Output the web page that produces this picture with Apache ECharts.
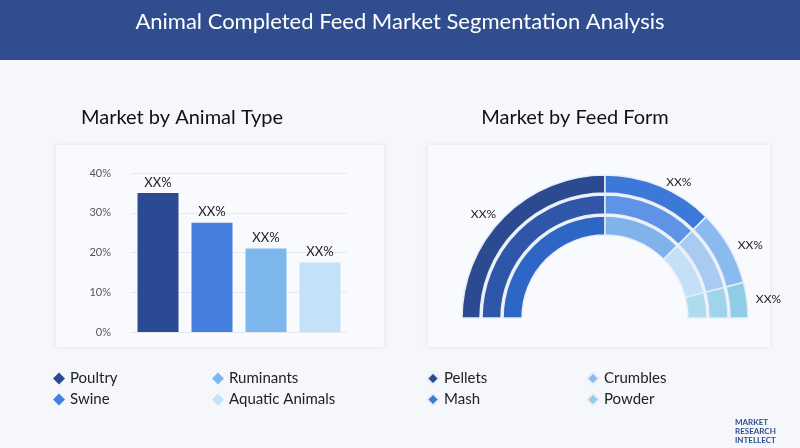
<!DOCTYPE html>
<html><head><meta charset="utf-8">
<script src="https://cdn.jsdelivr.net/npm/echarts@6/dist/echarts.min.js"></script>
<style>html,body{margin:0;padding:0;background:#f5f7fb}#c{width:800px;height:448px}</style>
</head><body><div id="c"></div>
<script>
const animalTypes = ['Poultry','Swine','Ruminants','Aquatic Animals'];
const animalValues = [35, 27.5, 21, 17.5];
const animalColors = ['#2c4a94','#4580e0','#7db7ee','#c3e2f8'];
const yTicks = [0,10,20,30,40];
const feedForms = ['Pellets','Mash','Crumbles','Powder'];
const feedValues = [50, 25, 17, 8];
const ringColors = [
  ['#2b4a90','#3b78d8','#8bbaee','#90cce6'],
  ['#2f56a8','#5f93e6','#a9cbf2','#a0d4ea'],
  ['#2e66c6','#80b2ec','#c4e0f6','#aedcee']
];
const labelText = 'XX%';

const chart = echarts.init(document.getElementById('c'));
const font = 'Lato, "Noto Sans", sans-serif';
const barSeries = animalTypes.map((n,i)=>({
  type:'bar', name:n, xAxisIndex:0, yAxisIndex:0,
  data: animalTypes.map((_,j)=> j===i ? animalValues[i] : '-'),
  barWidth:41, barGap:'-100%',
  itemStyle:{color:animalColors[i]},
  label:{show:true, position:'top', formatter:labelText, color:'#222', fontSize:13, fontFamily:font, distance:4}
}));
const radii = [[125,143],[104,123],[83,102]];
const pieSeries = radii.map((r,k)=>({
  type:'pie', center:[605,318], radius:r, startAngle:180, endAngle:0,
  silent:true,
  data: feedForms.map((n,i)=>({name:n, value:feedValues[i], itemStyle:{color:ringColors[k][i]}})),
  itemStyle:{borderColor:'#e8eef8', borderWidth:1.5},
  label: k===0 ? {show:true, position:'outside', formatter:labelText, color:'#222', fontSize:12, fontFamily:font} : {show:false},
  labelLine:{show:false, length:4, length2:0}
}));
function leg(names, left, top){
  return {data:names, left, top, orient:'vertical', itemGap:6, icon:'diamond', itemWidth:12, itemHeight:12,
    textStyle:{fontSize:15, color:'#222', fontFamily:font}, selectedMode:false};
}
chart.setOption({
  backgroundColor:'#f5f7fb',
  animation:false,
  graphic:[
    {type:'rect', shape:{x:0,y:0,width:800,height:60}, style:{fill:'#2f4d8f'}},
    {type:'text', x:400, y:22, style:{text:'Animal Completed Feed Market Segmentation Analysis', fill:'#fff', font:'22px '+font, textAlign:'center', textVerticalAlign:'middle'}},
    {type:'text', x:182, y:118, style:{text:'Market by Animal Type', fill:'#111', font:'20px '+font, textAlign:'center', textVerticalAlign:'middle'}},
    {type:'text', x:575, y:118, style:{text:'Market by Feed Form', fill:'#111', font:'20px '+font, textAlign:'center', textVerticalAlign:'middle'}},
    {type:'rect', z:-1, shape:{x:56,y:145,width:328,height:202}, style:{fill:'#f9fafd', shadowBlur:6, shadowColor:'rgba(0,0,0,0.08)'}},
    {type:'rect', z:-1, shape:{x:428,y:145,width:342,height:202}, style:{fill:'#f9fafd', shadowBlur:6, shadowColor:'rgba(0,0,0,0.08)'}},
    {type:'text', x:735, y:418, style:{text:'MARKET\nRESEARCH\nINTELLECT', fill:'#2f4d8f', font:'bold 8px '+font, lineHeight:9}}
  ],
  grid:{left:131, right:453, top:173, bottom:116},
  xAxis:{type:'category', data:animalTypes, axisLabel:{show:false}, axisTick:{show:false}, axisLine:{show:false}},
  yAxis:{type:'value', min:0, max:40, interval:10, splitLine:{lineStyle:{color:'#e6e9f0'}},
    axisLabel:{formatter:v=>v+'%', color:'#555', fontSize:11, fontFamily:font, margin:20}},
  legend:[
    leg(['Poultry','Swine'],48,366), leg(['Ruminants','Aquatic Animals'],207,366),
    leg(['Pellets','Mash'],421,366), leg(['Crumbles','Powder'],581,366)
  ],
  series:[...barSeries, ...pieSeries]
});
</script></body></html>
